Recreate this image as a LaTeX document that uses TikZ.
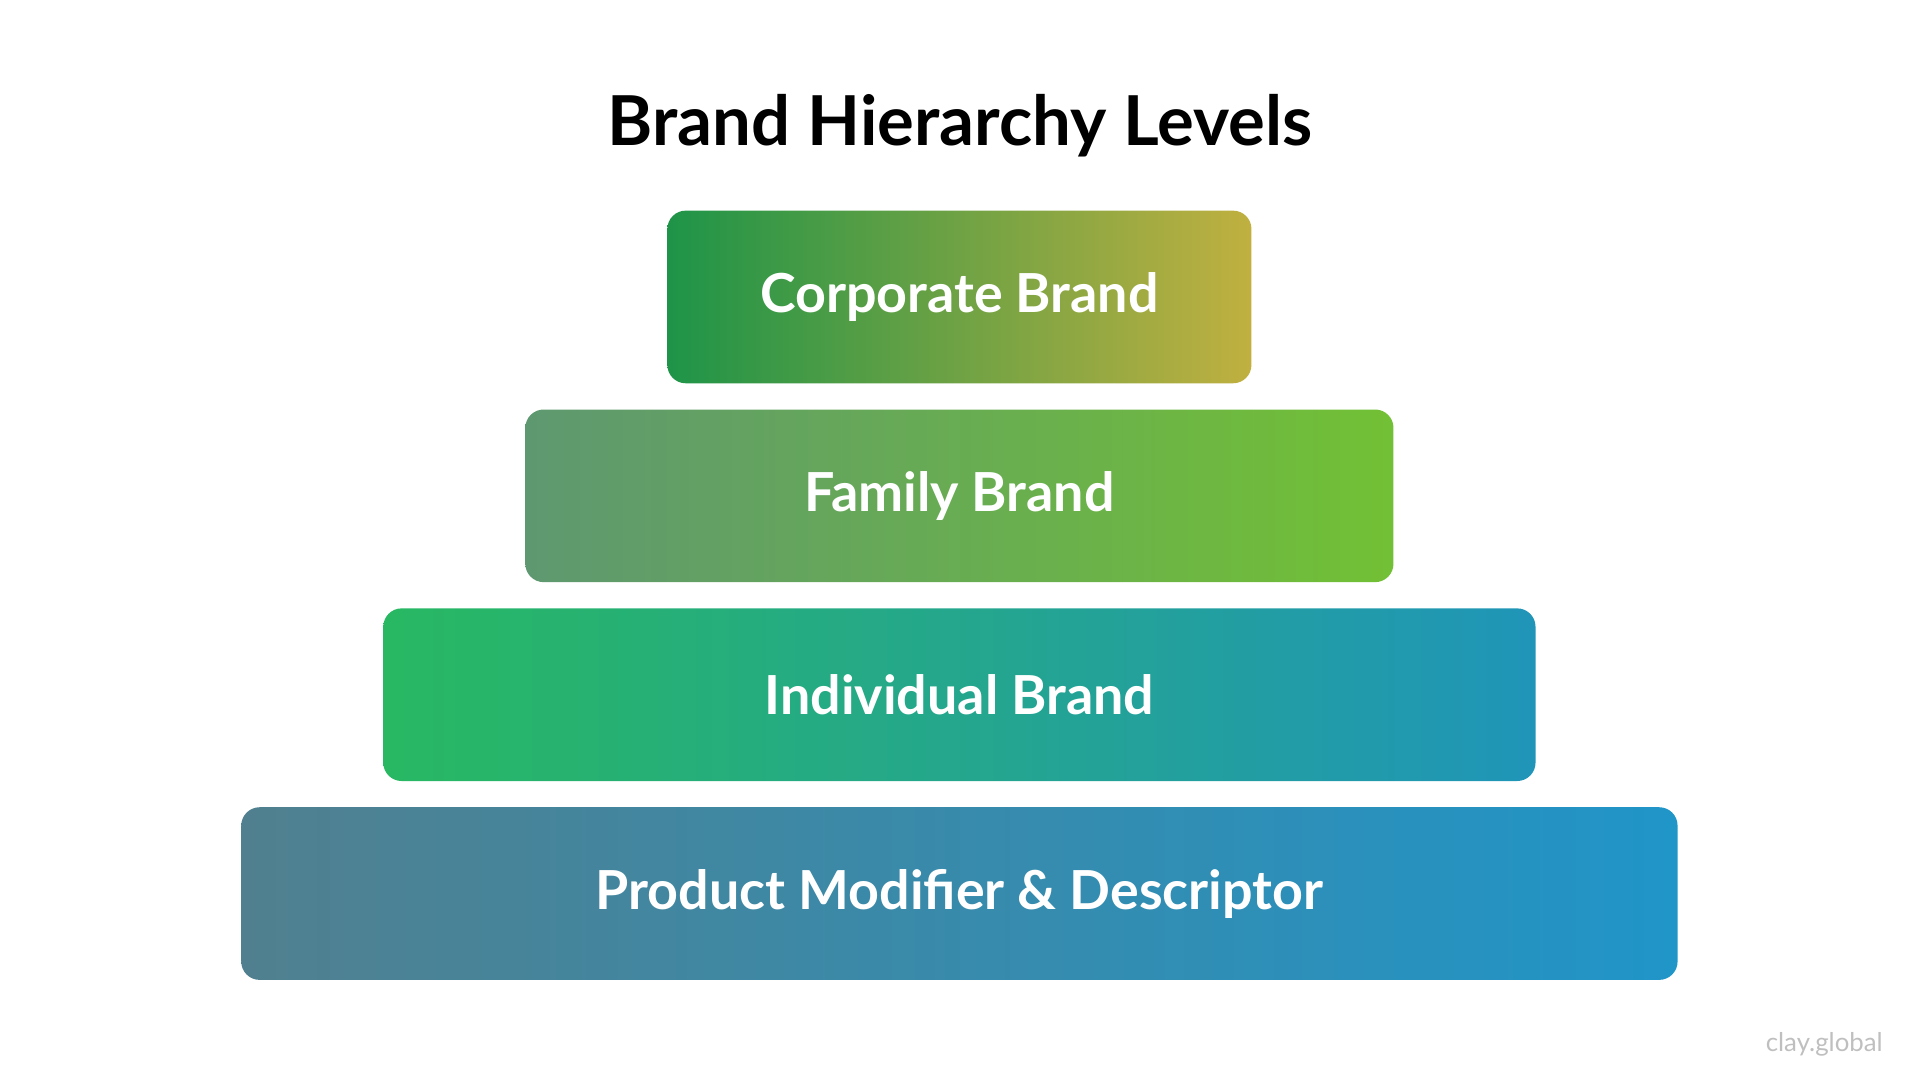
\documentclass[tikz,border=0pt]{standalone}
\usepackage{fontspec}
\setmainfont{Lato}
\usetikzlibrary{positioning}
\tikzstyle{level} = [rectangle, rounded corners=0.15cm, minimum height=1.41cm, text=white, font=\fontsize{12.5}{14}\selectfont\bfseries, draw=none]
\tikzstyle{heading} = [font=\fontsize{16}{19}\selectfont\bfseries, text=black]
\begin{document}
\begin{tikzpicture}[node distance=0.2cm]
\useasboundingbox (0,0) rectangle (15.68,-8.82);
\node (title) [heading] at (7.84,-1.03) {Brand Hierarchy Levels};

\node (corp) [level, minimum width=4.77cm, left color={rgb,255:red,30;green,148;blue,72}, right color={rgb,255:red,192;green,176;blue,64}] at (7.835,-2.425) {Corporate Brand};

\node (family) [level, minimum width=7.09cm, below=of corp, left color={rgb,255:red,94;green,152;blue,112}, right color={rgb,255:red,114;green,192;blue,53}] {Family Brand};

\node (indiv) [level, minimum width=9.41cm, below=of family, left color={rgb,255:red,40;green,184;blue,98}, right color={rgb,255:red,32;green,149;blue,184}] {Individual Brand};

\node (prod) [level, minimum width=11.73cm, below=of indiv, left color={rgb,255:red,80;green,128;blue,143}, right color={rgb,255:red,32;green,149;blue,200}] {Product Modifier \& Descriptor};

\node (mark) [anchor=east, text=black!25, font=\fontsize{6}{7}\selectfont] at (15.5,-8.53) {clay.global};
\end{tikzpicture}
\end{document}
